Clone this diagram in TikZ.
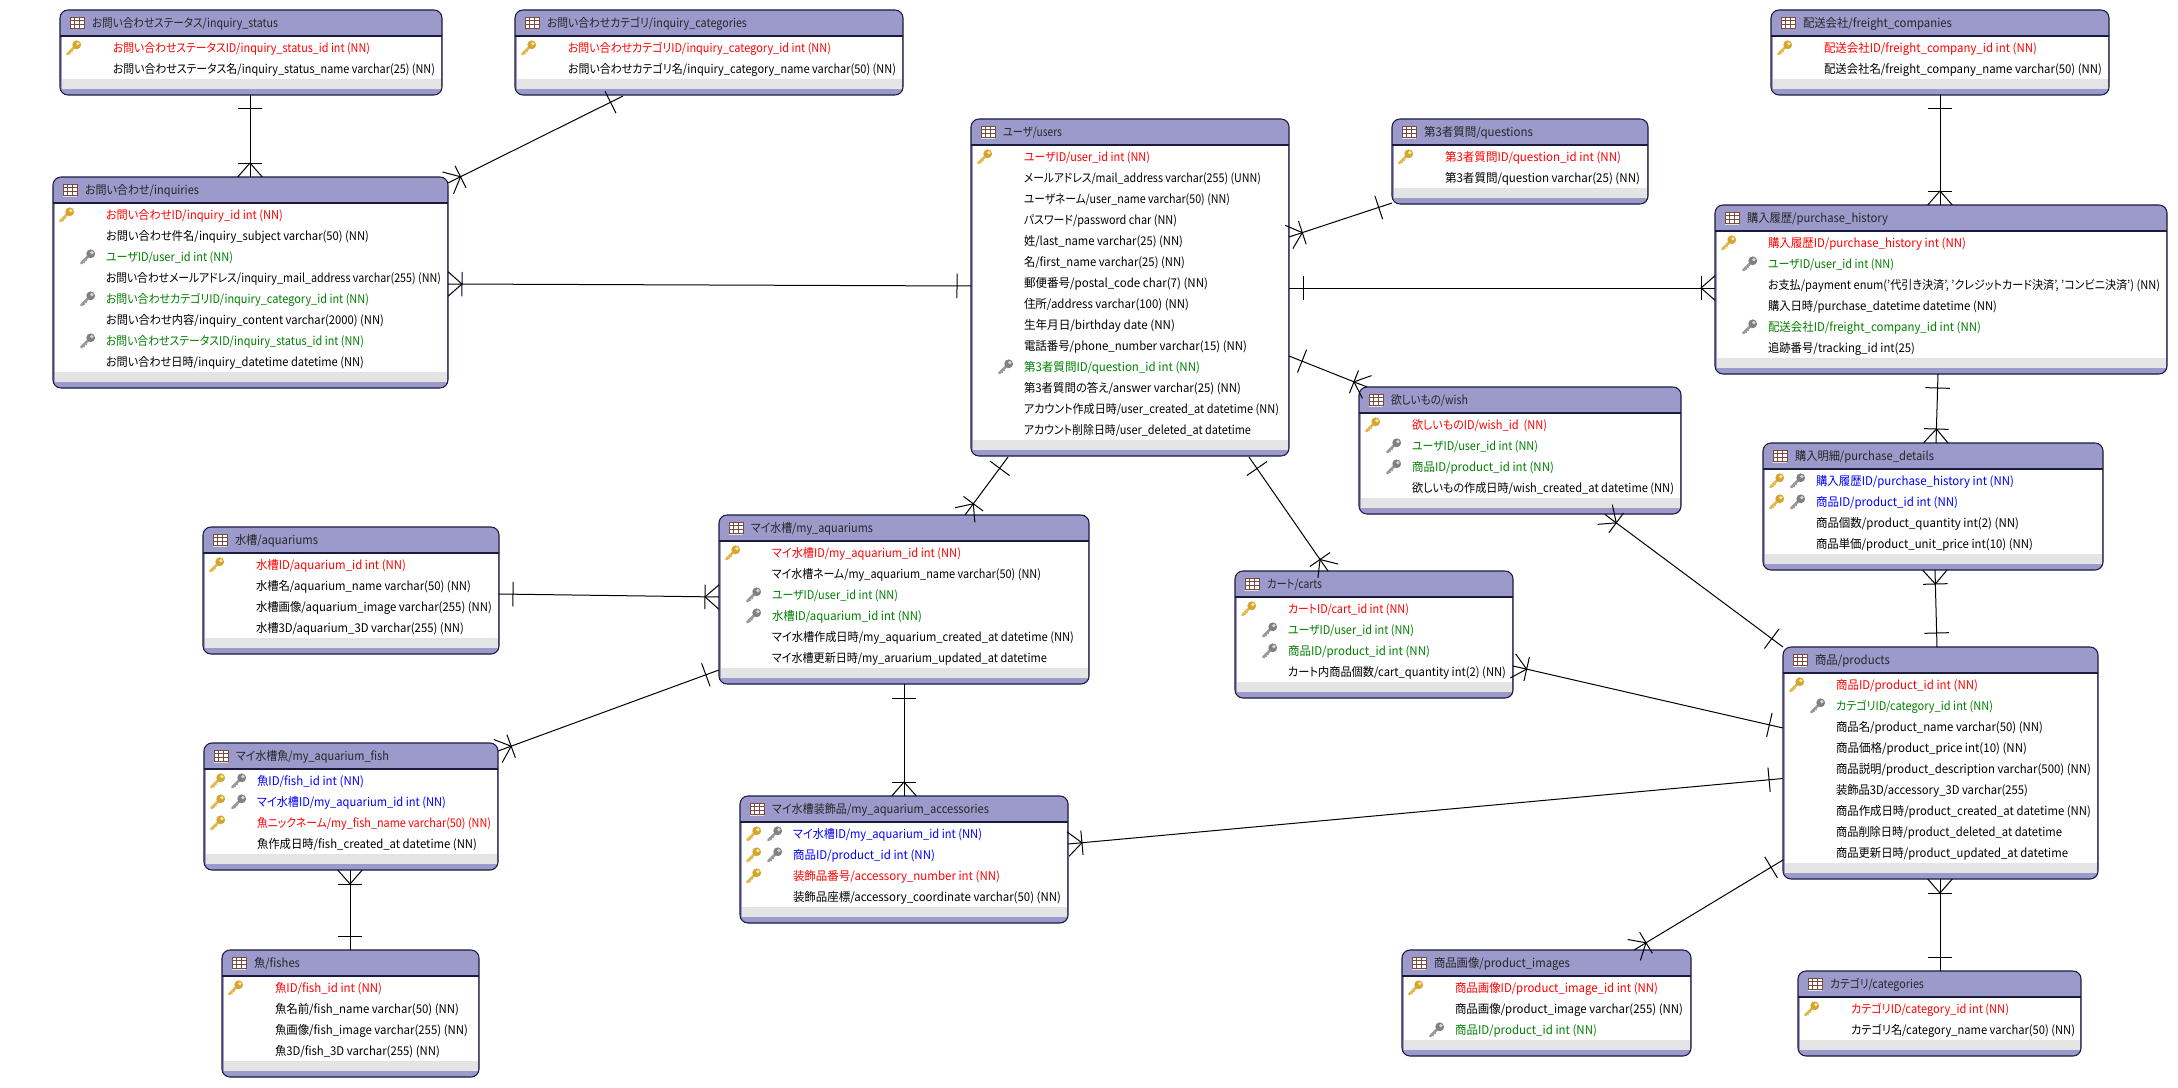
\documentclass[tikz,border=0pt]{standalone}
\usepackage{fontspec}
\usepackage{graphicx}
\usetikzlibrary{calc}
\setmainfont[RawFeature=+palt]{Noto Sans CJK JP}
\definecolor{headfill}{HTML}{9C9ACB}
\definecolor{bandfill}{HTML}{E4E4E4}
\definecolor{edgecol}{HTML}{1A1A40}
\definecolor{fkgreen}{HTML}{008000}
\definecolor{keygold}{HTML}{E0B950}
\definecolor{keygoldhead}{HTML}{D6A52F}
\definecolor{keygoldhi}{HTML}{F5E6A5}
\definecolor{keygray}{HTML}{9A9A9A}
\definecolor{keygrayhead}{HTML}{808080}
\definecolor{keygrayhi}{HTML}{D4D4D4}
\definecolor{iconline}{HTML}{7A4A3C}
\definecolor{iconfill}{HTML}{FFFFFF}
\tikzset{
  tablebox/.style={draw=edgecol,fill=headfill,line width=0.8pt,rounded corners=6pt,anchor=north west,inner sep=0pt,outer sep=0pt},
  titletext/.style={anchor=base west,inner sep=0pt,outer sep=0pt,font=\fontsize{9}{11}\selectfont,text=black!85},
  rowtext/.style={anchor=base west,inner sep=0pt,outer sep=0pt,font=\fontsize{9}{11}\selectfont},
  relline/.style={draw=black,line width=0.75pt},
}
\newcount\rowno
\newcommand{\fitw}[2]{\pgfmathsetlengthmacro\fitlen{#1*0.75}\resizebox{\fitlen}{\height}{#2}}
\newcommand{\keyicon}[5]{%
  \begin{scope}[shift={(#4,#5)}]
    \draw[line width=1.9pt,color=#1,line cap=round] (-6.2,6.2) -- (2,-2);
    \draw[line width=0.8pt,color=#1] (-4.5,4.5) -- (-3,6) (-2.5,2.5) -- (-1,4);
    \fill[#2] (3.2,-3.2) circle (4.4);
    \fill[#3] (4.4,-4.4) circle (1.9);
  \end{scope}}
\newcommand{\tableicon}[2]{%
  \begin{scope}[shift={(#1,#2)}]
    \fill[black!12] (0,11) rectangle (14,12.5);
    \draw[draw=iconline,fill=iconfill,line width=0.6pt] (0,0) rectangle (14,11);
    \draw[draw=iconline,line width=0.4pt] (0,3.3) -- (14,3.3) (0,7.2) -- (14,7.2) (4.7,0) -- (4.7,11) (9.4,0) -- (9.4,11);
  \end{scope}}
% id, left, top, width, number of rows, title width, title
\newcommand{\ertable}[7]{%
  \def\tid{#1}\def\tL{#2}\def\tT{#3}\global\rowno=0
  \pgfmathsetmacro\tH{43+21*#5}
  \node[tablebox,minimum width=#4*0.75pt,minimum height=\tH*0.75pt] (#1) at (#2,#3) {};
  \fill[white] (#2+1.5,#3+26) rectangle (#2+#4-1.5,#3+27+21*#5);
  \fill[bandfill] (#2+1.5,#3+27+21*#5) rectangle (#2+#4-1.5,#3+37+21*#5);
  \draw[edgecol,line width=0.8pt] (#2,#3+26) -- (#2+#4,#3+26);
  \tableicon{#2+10}{#3+7}
  \node[titletext] (#1-title) at (#2+32,#3+17.5) {\fitw{#6}{#7}};}
\newcommand{\nextrow}[3]{%
  \global\advance\rowno by 1
  \pgfmathsetmacro\rY{\tT+38+21*(\the\rowno-1)}
  \node[rowtext,text=#1] (\tid-r\the\rowno) at (\tL+53,\rY+4.4) {\fitw{#2}{#3}};}
\newcommand{\goldkey}{\keyicon{keygold}{keygoldhead}{keygoldhi}{\tL+13.5}{\rY}}
\newcommand{\graykey}{\keyicon{keygray}{keygrayhead}{keygrayhi}{\tL+34.5}{\rY}}
\newcommand{\rpk}[2]{\nextrow{red}{#1}{#2}\goldkey}
\newcommand{\rfk}[2]{\nextrow{fkgreen}{#1}{#2}\graykey}
\newcommand{\rpf}[2]{\nextrow{blue}{#1}{#2}\goldkey\graykey}
\newcommand{\rno}[2]{\nextrow{black}{#1}{#2}}
\newcommand{\markone}[2]{%
  \coordinate (c) at ($(#1)!10.5pt!(#2)$);
  \draw[relline] ($(c)!9.2pt!90:(#2)$) -- ($(c)!9.2pt!-90:(#2)$);}
\newcommand{\markmany}[2]{%
  \markone{#1}{#2}
  \draw[relline] ($(#1)!9.2pt!90:(#2)$) -- (c) -- ($(#1)!9.2pt!-90:(#2)$);}
% A dx dy markA B dx dy markB
\newcommand{\connector}[8]{%
  \draw[relline] ([xshift=#2*0.75pt,yshift=-#3*0.75pt]#1.north west) coordinate (p) -- ([xshift=#6*0.75pt,yshift=-#7*0.75pt]#5.north west) coordinate (q);
  \csname mark#4\endcsname{p}{q}
  \csname mark#8\endcsname{q}{p}}
\catcode`\_=12
\begin{document}
\begin{tikzpicture}[x=0.75pt,y=-0.75pt]
\useasboundingbox (0,0) rectangle (2178,1088);
\fill[white] (0,0) rectangle (2178,1088);

\ertable{status}{60}{10}{382}{2}{186}{お問い合わせステータス/inquiry_status}
\rpk{257}{お問い合わせステータスID/inquiry_status_id int (NN)}
\rno{322}{お問い合わせステータス名/inquiry_status_name varchar(25) (NN)}

\ertable{icat}{515}{10}{388}{2}{200}{お問い合わせカテゴリ/inquiry_categories}
\rpk{263}{お問い合わせカテゴリID/inquiry_category_id int (NN)}
\rno{328}{お問い合わせカテゴリ名/inquiry_category_name varchar(50) (NN)}

\ertable{inquiries}{53}{177}{395}{8}{114}{お問い合わせ/inquiries}
\rpk{177}{お問い合わせID/inquiry_id int (NN)}
\rno{263}{お問い合わせ件名/inquiry_subject varchar(50) (NN)}
\rfk{127}{ユーザID/user_id int (NN)}
\rno{335}{お問い合わせメールアドレス/inquiry_mail_address varchar(255) (NN)}
\rfk{263}{お問い合わせカテゴリID/inquiry_category_id int (NN)}
\rno{278}{お問い合わせ内容/inquiry_content varchar(2000) (NN)}
\rfk{258}{お問い合わせステータスID/inquiry_status_id int (NN)}
\rno{258}{お問い合わせ日時/inquiry_datetime datetime (NN)}

\ertable{users}{971}{119}{318}{14}{59}{ユーザ/users}
\rpk{126}{ユーザID/user_id int (NN)}
\rno{237}{メールアドレス/mail_address varchar(255) (UNN)}
\rno{206}{ユーザネーム/user_name varchar(50) (NN)}
\rno{153}{パスワード/password char (NN)}
\rno{159}{姓/last_name varchar(25) (NN)}
\rno{161}{名/first_name varchar(25) (NN)}
\rno{184}{郵便番号/postal_code char(7) (NN)}
\rno{165}{住所/address varchar(100) (NN)}
\rno{151}{生年月日/birthday date (NN)}
\rno{223}{電話番号/phone_number varchar(15) (NN)}
\rfk{176}{第3者質問ID/question_id int (NN)}
\rno{217}{第3者質問の答え/answer varchar(25) (NN)}
\rno{255}{アカウント作成日時/user_created_at datetime (NN)}
\rno{227}{アカウント削除日時/user_deleted_at datetime}

\ertable{questions}{1392}{119}{256}{2}{109}{第3者質問/questions}
\rpk{176}{第3者質問ID/question_id int (NN)}
\rno{195}{第3者質問/question varchar(25) (NN)}

\ertable{freight}{1771}{10}{338}{2}{149}{配送会社/freight_companies}
\rpk{213}{配送会社ID/freight_company_id int (NN)}
\rno{278}{配送会社名/freight_company_name varchar(50) (NN)}

\ertable{history}{1715}{205}{452}{6}{141}{購入履歴/purchase_history}
\rpk{198}{購入履歴ID/purchase_history int (NN)}
\rfk{126}{ユーザID/user_id int (NN)}
\rno{392}{お支払/payment enum('代引き決済', 'クレジットカード決済', 'コンビニ決済') (NN)}
\rno{229}{購入日時/purchase_datetime datetime (NN)}
\rfk{213}{配送会社ID/freight_company_id int (NN)}
\rno{147}{追跡番号/tracking_id int(25)}

\ertable{wish}{1359}{387}{322}{4}{77}{欲しいもの/wish}
\rpk{135}{欲しいものID/wish_id\ \ (NN)}
\rfk{126}{ユーザID/user_id int (NN)}
\rfk{142}{商品ID/product_id int (NN)}
\rno{262}{欲しいもの作成日時/wish_created_at datetime (NN)}

\ertable{details}{1763}{443}{340}{4}{139}{購入明細/purchase_details}
\rpf{198}{購入履歴ID/purchase_history int (NN)}
\rpf{142}{商品ID/product_id int (NN)}
\rno{203}{商品個数/product_quantity int(2) (NN)}
\rno{217}{商品単価/product_unit_price int(10) (NN)}

\ertable{carts}{1235}{571}{278}{4}{55}{カート/carts}
\rpk{121}{カートID/cart_id int (NN)}
\rfk{126}{ユーザID/user_id int (NN)}
\rfk{142}{商品ID/product_id int (NN)}
\rno{218}{カート内商品個数/cart_quantity int(2) (NN)}

\ertable{products}{1783}{647}{315}{9}{75}{商品/products}
\rpk{142}{商品ID/product_id int (NN)}
\rfk{157}{カテゴリID/category_id int (NN)}
\rno{207}{商品名/product_name varchar(50) (NN)}
\rno{191}{商品価格/product_price int(10) (NN)}
\rno{255}{商品説明/product_description varchar(500) (NN)}
\rno{192}{装飾品3D/accessory_3D varchar(255)}
\rno{255}{商品作成日時/product_created_at datetime (NN)}
\rno{226}{商品削除日時/product_deleted_at datetime}
\rno{232}{商品更新日時/product_updated_at datetime}

\ertable{images}{1402}{950}{289}{3}{136}{商品画像/product_images}
\rpk{203}{商品画像ID/product_image_id int (NN)}
\rno{228}{商品画像/product_image varchar(255) (NN)}
\rfk{142}{商品ID/product_id int (NN)}

\ertable{categories}{1798}{971}{283}{2}{94}{カテゴリ/categories}
\rpk{158}{カテゴリID/category_id int (NN)}
\rno{224}{カテゴリ名/category_name varchar(50) (NN)}

\ertable{myaq}{719}{515}{370}{6}{122}{マイ水槽/my_aquariums}
\rpk{189}{マイ水槽ID/my_aquarium_id int (NN)}
\rno{269}{マイ水槽ネーム/my_aquarium_name varchar(50) (NN)}
\rfk{126}{ユーザID/user_id int (NN)}
\rfk{150}{水槽ID/aquarium_id int (NN)}
\rno{302}{マイ水槽作成日時/my_aquarium_created_at datetime (NN)}
\rno{275}{マイ水槽更新日時/my_aruarium_updated_at datetime}

\ertable{acc}{740}{796}{328}{4}{217}{マイ水槽装飾品/my_aquarium_accessories}
\rpf{189}{マイ水槽ID/my_aquarium_id int (NN)}
\rpf{142}{商品ID/product_id int (NN)}
\rpk{207}{装飾品番号/accessory_number int (NN)}
\rno{268}{装飾品座標/accessory_coordinate varchar(50) (NN)}

\ertable{aquariums}{203}{527}{296}{4}{83}{水槽/aquariums}
\rpk{150}{水槽ID/aquarium_id int (NN)}
\rno{215}{水槽名/aquarium_name varchar(50) (NN)}
\rno{236}{水槽画像/aquarium_image varchar(255) (NN)}
\rno{208}{水槽3D/aquarium_3D varchar(255) (NN)}

\ertable{fish}{204}{743}{294}{4}{153}{マイ水槽魚/my_aquarium_fish}
\rpf{107}{魚ID/fish_id int (NN)}
\rpf{189}{マイ水槽ID/my_aquarium_id int (NN)}
\rpk{234}{魚ニックネーム/my_fish_name varchar(50) (NN)}
\rno{220}{魚作成日時/fish_created_at datetime (NN)}

\ertable{fishes}{222}{950}{257}{4}{46}{魚/fishes}
\rpk{107}{魚ID/fish_id int (NN)}
\rno{184}{魚名前/fish_name varchar(50) (NN)}
\rno{193}{魚画像/fish_image varchar(255) (NN)}
\rno{165}{魚3D/fish_3D varchar(255) (NN)}

\connector{status}{190}{85}{one}{inquiries}{197}{0}{many}
\connector{icat}{108}{86}{one}{inquiries}{395}{6}{many}
\connector{inquiries}{395}{107}{many}{users}{0}{167}{one}
\connector{users}{318}{118}{many}{questions}{0}{84}{one}
\connector{users}{318}{169}{one}{history}{0}{83}{many}
\connector{users}{318}{237}{one}{wish}{8}{0}{many}
\connector{users}{278}{338}{one}{carts}{93}{0}{many}
\connector{users}{37}{338}{one}{myaq}{246}{0}{many}
\connector{aquariums}{296}{67}{one}{myaq}{0}{82}{many}
\connector{myaq}{0}{155}{one}{fish}{294}{8}{many}
\connector{myaq}{185}{169}{one}{acc}{164}{0}{many}
\connector{fish}{146}{127}{many}{fishes}{128}{0}{one}
\connector{products}{0}{131.5}{one}{acc}{328}{48}{many}
\connector{products}{0}{81}{one}{carts}{278}{95}{many}
\connector{products}{0}{0}{one}{wish}{246}{127.5}{many}
\connector{history}{223}{169}{one}{details}{173}{0}{many}
\connector{details}{172}{127}{many}{products}{154}{0}{one}
\connector{freight}{169}{85}{one}{history}{225}{0}{many}
\connector{products}{157}{232}{many}{categories}{142}{0}{one}
\connector{products}{0}{213}{one}{images}{232}{0}{many}
\end{tikzpicture}
\end{document}
